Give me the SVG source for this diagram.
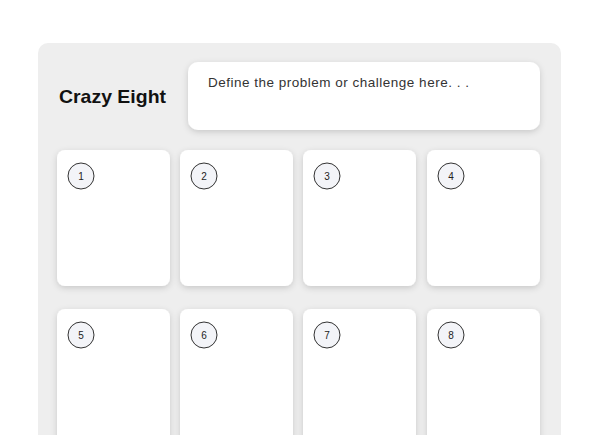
<svg xmlns="http://www.w3.org/2000/svg" width="600" height="435" viewBox="0 0 600 435">
<defs>
<filter id="sh" x="-20%" y="-20%" width="140%" height="150%">
<feDropShadow dx="0" dy="2" stdDeviation="3" flood-color="#000" flood-opacity="0.16"/>
</filter>
<style>
.card{fill:#ffffff;filter:url(#sh);}
.num{fill:#f3f4f8;stroke:#333;stroke-width:1;}
.nt{font-family:"Liberation Sans",Arial,sans-serif;font-size:10px;fill:#222;text-anchor:middle;}
</style>
</defs>
<rect width="600" height="435" fill="#ffffff"/>
<rect id="panel" x="38" y="43" width="523" height="420" rx="10" fill="#eeeeee"/>
<g id="title"><text x="59" y="103" font-family="Liberation Sans,Arial,sans-serif" font-size="19" font-weight="bold" fill="#111" textLength="107" lengthAdjust="spacingAndGlyphs">Crazy Eight</text></g>
<g id="header">
<rect class="card" x="188" y="62" width="352" height="68" rx="10"/>
<text x="208" y="87" font-family="Liberation Sans,Arial,sans-serif" font-size="13.5" letter-spacing="0.5" fill="#333">Define the problem or challenge here. . .</text>
</g>
<g id="card1"><rect class="card" x="57" y="150" width="113" height="136" rx="8"/><circle class="num" cx="81" cy="176" r="13"/><text class="nt" x="81" y="180">1</text></g>
<g id="card2"><rect class="card" x="180" y="150" width="113" height="136" rx="8"/><circle class="num" cx="204" cy="176" r="13"/><text class="nt" x="204" y="180">2</text></g>
<g id="card3"><rect class="card" x="303" y="150" width="113" height="136" rx="8"/><circle class="num" cx="327" cy="176" r="13"/><text class="nt" x="327" y="180">3</text></g>
<g id="card4"><rect class="card" x="427" y="150" width="113" height="136" rx="8"/><circle class="num" cx="451" cy="176" r="13"/><text class="nt" x="451" y="180">4</text></g>
<g id="card5"><rect class="card" x="57" y="309" width="113" height="136" rx="8"/><circle class="num" cx="81" cy="335" r="13"/><text class="nt" x="81" y="339">5</text></g>
<g id="card6"><rect class="card" x="180" y="309" width="113" height="136" rx="8"/><circle class="num" cx="204" cy="335" r="13"/><text class="nt" x="204" y="339">6</text></g>
<g id="card7"><rect class="card" x="303" y="309" width="113" height="136" rx="8"/><circle class="num" cx="327" cy="335" r="13"/><text class="nt" x="327" y="339">7</text></g>
<g id="card8"><rect class="card" x="427" y="309" width="113" height="136" rx="8"/><circle class="num" cx="451" cy="335" r="13"/><text class="nt" x="451" y="339">8</text></g>
<g id="connectors"/>
</svg>
